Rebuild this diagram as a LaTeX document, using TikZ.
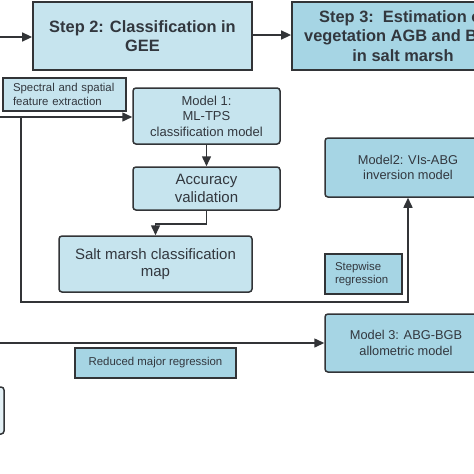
\documentclass[tikz,border=0pt]{standalone}
\usepackage{fontspec}
\setmainfont{Liberation Sans}
\usetikzlibrary{arrows.meta}
\definecolor{boxLight}{RGB}{198, 228, 238}
\definecolor{boxDark}{RGB}{166, 213, 228}
\definecolor{boxPale}{RGB}{228, 241, 246}
\definecolor{lineGray}{RGB}{50, 52, 55}
\definecolor{textGray}{RGB}{50, 55, 62}

\tikzset{
  stepbox/.style={draw=lineGray, line width=1.8pt, align=center, text=textGray,
    inner sep=0pt, font=\bfseries\fontsize{16.4}{19.5}\selectfont},
  modelbox/.style={draw=lineGray, line width=1.5pt, rounded corners=3pt,
    align=center, text=textGray, inner sep=0pt},
  notebox/.style={draw=lineGray, line width=1.5pt, align=left, text=textGray,
    inner ysep=0pt, inner xsep=10pt, font=\fontsize{11.4}{13.8}\selectfont},
  arr/.style={draw=lineGray, line width=1.5pt, -{Triangle[length=10pt,width=9pt]}},
}

\begin{document}
\begin{tikzpicture}[x=1pt, y=-1pt]
    \useasboundingbox (0,0) rectangle (474,474);
    \clip (0,0) rectangle (474,474);
    \fill[white] (0,0) rectangle (474,474);

    % steps
    \node[stepbox, fill=boxLight, minimum width=219pt, minimum height=68pt] (step2) at (142.5,36)
      {Step 2: Classification in\\GEE};
    \node[stepbox, fill=boxDark, minimum width=222pt, minimum height=68pt] (step3) at (403,36)
      {Step 3:\ \ Estimation of\\vegetation AGB and BGB\\in salt marsh};

    % classification branch
    \node[notebox, fill=boxLight, text width=103pt, minimum height=33pt] (spectral) at (64.5,94.5)
      {Spectral and spatial\\feature extraction};
    \node[modelbox, fill=boxLight, minimum width=147pt, minimum height=56pt,
      font=\fontsize{13}{15.5}\selectfont] (model1) at (206.5,116)
      {Model 1:\\ML-TPS\\classification model};
    \node[modelbox, fill=boxLight, minimum width=147pt, minimum height=43pt,
      font=\fontsize{15}{17.5}\selectfont] (acc) at (206.5,188.5)
      {Accuracy\\validation};
    \node[modelbox, fill=boxLight, minimum width=193pt, minimum height=56pt,
      font=\fontsize{15}{17.5}\selectfont] (salt) at (155.5,264)
      {Salt marsh classification\\map};

    % biomass branch
    \node[modelbox, fill=boxDark, minimum width=166pt, minimum height=59pt,
      font=\fontsize{12.8}{15.5}\selectfont] (model2) at (408,167.5)
      {Model2: VIs-ABG\\inversion model};
    \node[notebox, fill=boxDark, text width=57pt, minimum height=40pt] (stepwise) at (363.5,274)
      {Stepwise\\regression};
    \node[modelbox, fill=boxDark, minimum width=162pt, minimum height=58pt,
      font=\fontsize{12.8}{15.5}\selectfont] (model3) at (406,343)
      {Model 3: ABG-BGB\\allometric model};
    \node[notebox, fill=boxDark, align=center, minimum width=161pt, minimum height=30pt] (reduced) at (155.5,363)
      {Reduced major regression};
    \node[modelbox, fill=boxPale, minimum width=64pt, minimum height=47pt] (edgebox) at (-28,410.5) {};

    % connectors
    \coordinate (in2) at (0,37);
    \coordinate (in1) at (0,117);
    \coordinate (in3) at (0,343);
    \coordinate (split) at (21,117);
    \coordinate (loop) at (408,302);
    \draw[arr] (in2) -- (in2 -| step2.west);
    \draw[arr] (step2.east |- 0,35) -- (step3.west |- 0,35);
    \draw[arr] (in1) -- (in1 -| model1.west);
    \draw[arr] (split) |- (loop) -- (model2.south);
    \draw[arr] (model1.south) -- (acc.north);
    \draw[arr] (acc.south) -- ++(0,13) -| (salt.north);
    \draw[arr] (in3) -- (in3 -| model3.west);
  \end{tikzpicture}
\end{document}
